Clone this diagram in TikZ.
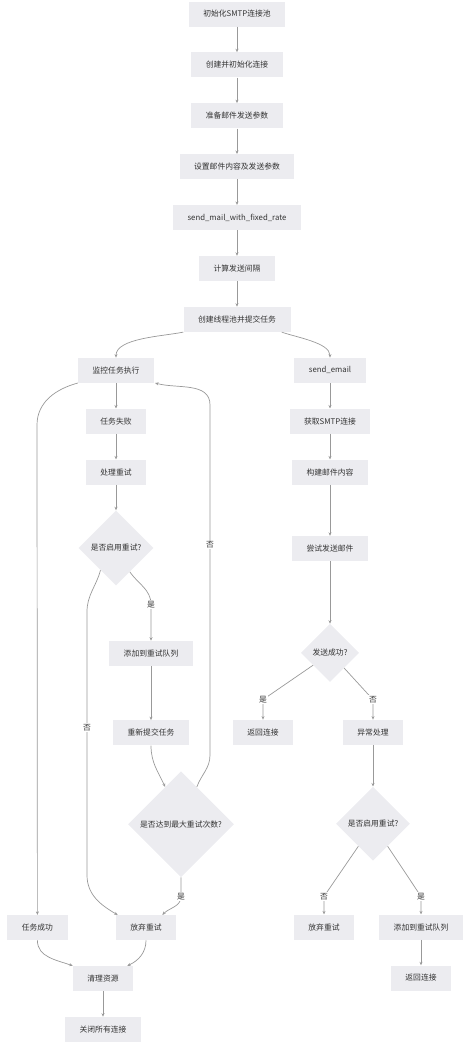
\documentclass[tikz,border=0pt]{standalone}
\usepackage{fontspec}
\setmainfont{Noto Sans CJK SC}
\usetikzlibrary{shapes.geometric, positioning, arrows.meta}
\definecolor{boxfill}{HTML}{ECECF0}
\definecolor{edgegray}{HTML}{999999}
\definecolor{txt}{HTML}{333333}

\begin{document}
\begin{tikzpicture}[
x=1pt, y=1pt,
node distance=25.5pt,
>={Stealth[length=3.5pt,width=3pt]},
every node/.style={font=\fontsize{7.8pt}{9pt}\selectfont, text=txt},
box/.style={rectangle, fill=boxfill, inner xsep=14.5pt, inner ysep=0pt, minimum height=25pt, align=center},
decision/.style={diamond, fill=boxfill, aspect=1, inner sep=0pt, align=center},
line/.style={->, draw=edgegray, line width=0.7pt},
lbl/.style={fill=white, inner sep=1pt}
]

\useasboundingbox (0,0) rectangle (474,-1042);

% Main chain
\node[box] (init) at (237,-14) {初始化SMTP连接池};
\node[box, below=of init] (create) {创建并初始化连接};
\node[box, below=of create] (prepare) {准备邮件发送参数};
\node[box, below=of prepare] (setup) {设置邮件内容及发送参数};
\node[box, below=of setup] (fixedrate) {send\_mail\_with\_fixed\_rate};
\node[box, below=of fixedrate] (interval) {计算发送间隔};
\node[box, below=of interval] (pool) {创建线程池并提交任务};

% Monitor branch
\node[box, below=of pool, xshift=-121pt] (monitor) {监控任务执行};
\node[box, below=of monitor] (failed) {任务失败};
\node[box, below=of failed] (retry) {处理重试};
\node[decision, minimum size=75pt, below=of retry] (enable) {是否启用重试?};
\node[box, below=55pt of enable, xshift=35pt] (addq) {添加到重试队列};
\node[box, below=54pt of addq] (resubmit) {重新提交任务};
\node[decision, minimum size=106pt, below=of resubmit, xshift=30pt] (maxretry) {是否达到最大重试次数?};
\node[box, below=37.5pt of maxretry, xshift=-35pt] (giveupL) {放弃重试};
\node[box, left=48pt of giveupL] (success) {任务成功};
\node[box, below=of giveupL, xshift=-43pt] (cleanup) {清理资源};
\node[box, below=of cleanup] (closeall) {关闭所有连接};

% send_email branch
\node[box, below=of pool, xshift=93pt] (sendemail) {send\_email};
\node[box, below=of sendemail] (getconn) {获取SMTP连接};
\node[box, below=of getconn] (build) {构建邮件内容};
\node[box, below=51pt of build] (try) {尝试发送邮件};
\node[decision, minimum size=58pt, below=62.5pt of try] (sendok) {发送成功?};
\node[box, below=37.5pt of sendok, xshift=-67pt] (retconn) {返回连接};
\node[box, below=37.5pt of sendok, xshift=43pt] (except) {异常处理};
\node[decision, minimum size=74pt, below=41.5pt of except] (enable2) {是否启用重试?};
\node[box, below=53.5pt of enable2, xshift=-49pt] (giveupR) {放弃重试};
\node[box, below=53.5pt of enable2, xshift=48pt] (addqR) {添加到重试队列};
\node[box, below=of addqR] (retconnR) {返回连接};

% Connections
\draw[line] (init) -- (create);
\draw[line] (create) -- (prepare);
\draw[line] (prepare) -- (setup);
\draw[line] (setup) -- (fixedrate);
\draw[line] (fixedrate) -- (interval);
\draw[line] (interval) -- (pool);
\draw[line] (pool.south west) to[out=192,in=90,looseness=0.7] (monitor.north);
\draw[line] ([xshift=-9pt]pool.south east) to[out=-20,in=90,looseness=0.7] (sendemail.north);

\draw[line] (monitor) -- (failed);
\draw[line] (failed) -- (retry);
\draw[line] (retry) -- (enable);
\draw[line] (enable.-60) to[out=-55,in=90] ([yshift=36pt]addq.north) node[lbl]{是} -- (addq.north);
\draw[line] (enable.-125) to[out=-105,in=90] (87,-612) -- node[lbl,pos=0.44]{否} (87,-875) to[out=-90,in=150] ([xshift=2pt]giveupL.north west);
\draw[line] (addq) -- (resubmit);
\draw[line] (resubmit.south) to[out=-90,in=115] (maxretry.113);
\draw[line] (maxretry.south) -- ++(0,-19) node[lbl]{是} to[out=-90,in=45] ([xshift=-14pt]giveupL.north east);
\draw[line] (maxretry.67) to[out=70,in=-90] (210,-755) -- node[lbl,pos=0.6]{否} (210,-405) to[out=90,in=-15] ([xshift=1pt]monitor.south east);
\draw[line] (monitor.south west) to[out=195,in=90] (37,-425) -- (success.north);
\draw[line] (success.south) to[out=-90,in=160] (cleanup.north west);
\draw[line] (giveupL.south) to[out=-90,in=25] ([xshift=-6pt]cleanup.north east);
\draw[line] (cleanup) -- (closeall);

\draw[line] (sendemail) -- (getconn);
\draw[line] (getconn) -- (build);
\draw[line] (build) -- (try);
\draw[line] (try) -- (sendok);
\draw[line] (sendok.-144) -- ([yshift=20pt]retconn.north) node[lbl]{是} -- (retconn.north);
\draw[line] (sendok.-47) -- ([yshift=20pt]except.north) node[lbl]{否} -- (except.north);
\draw[line] (except) -- (enable2);
\draw[line] (enable2.-123) -- ([yshift=18pt]giveupR.north) node[lbl]{否} -- (giveupR.north);
\draw[line] (enable2.-57) -- ([yshift=18pt]addqR.north) node[lbl]{是} -- (addqR.north);
\draw[line] (addqR) -- (retconnR);

\end{tikzpicture}
\end{document}
